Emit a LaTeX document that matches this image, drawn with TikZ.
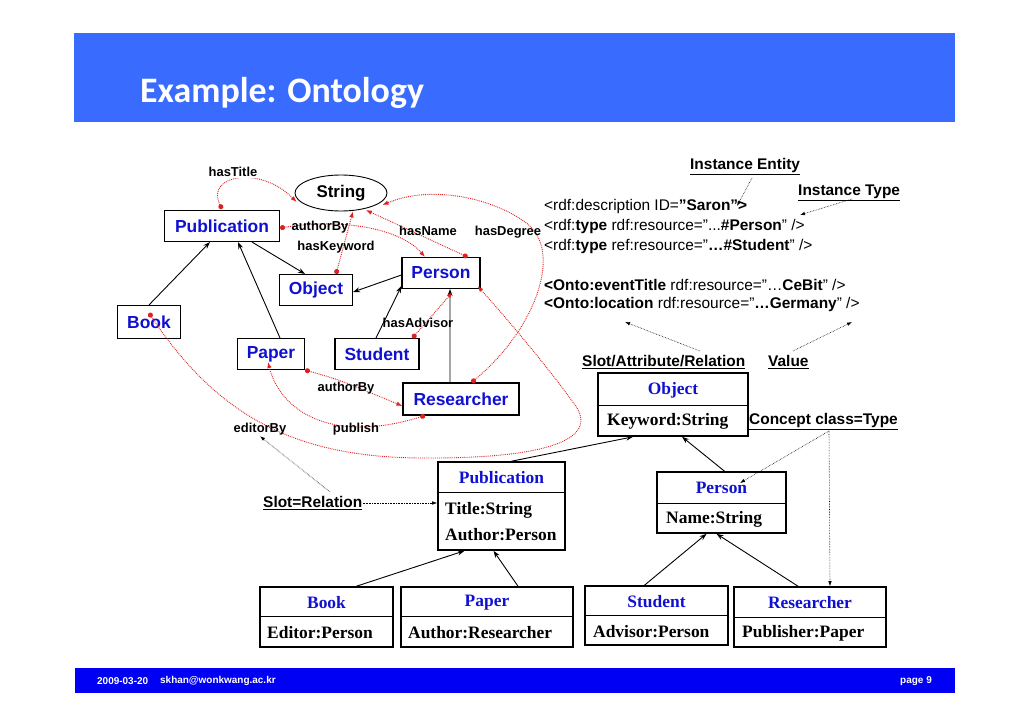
\documentclass[tikz,border=0pt]{standalone}
\usepackage{fontspec}
\setmainfont{Liberation Sans}
\newfontfamily\umlfont{Liberation Serif}
\newfontfamily\ttlfont{Carlito}
\usetikzlibrary{arrows.meta,shapes.geometric}
\definecolor{hdr}{HTML}{3A6BFF}
\definecolor{ftr}{HTML}{0000F5}
\definecolor{cls}{HTML}{1010D0}
\definecolor{rel}{HTML}{E02020}
\begin{document}
\begin{tikzpicture}[x=1bp,y=-1bp,
  cbox/.style={draw,line width=1.1bp,inner sep=0,font=\fontsize{17.5}{19}\selectfont\bfseries,text=cls},
  lab/.style={font=\fontsize{13}{14}\selectfont\bfseries,inner sep=1bp},
  relr/.style={rel,densely dotted,line width=0.9bp,{Circle[length=5bp,fill=rel]}-{Latex[length=6bp,width=4.5bp]}},
  isa/.style={line width=0.9bp,-{Stealth[length=7bp,width=5bp]}},
  ann/.style={line width=0.6bp,densely dotted,-{Latex[length=5bp,width=3.5bp]}},
  note/.style={font=\fontsize{15.5}{17}\selectfont\bfseries,inner sep=0,anchor=west},
  rdf/.style={font=\fontsize{15.5}{17}\selectfont,inner sep=0,anchor=west},
  uml/.style={draw,line width=1.6bp,inner sep=0},
  ut/.style={font=\umlfont\fontsize{17.5}{19}\selectfont\bfseries,text=cls,inner sep=0},
  ua/.style={font=\umlfont\fontsize{17.5}{19}\selectfont\bfseries,inner sep=0,anchor=west}]
\useasboundingbox (0,0) rectangle (1030,728);
% header and footer
\fill[hdr] (74,33) rectangle (955,122);
\node[font=\ttlfont\fontsize{36}{40}\selectfont\bfseries,text=white,anchor=west,inner sep=0] (title) at (140,93) {Example: Ontology};
\fill[ftr] (75,668) rectangle (955,693);
\node[font=\fontsize{10}{11}\selectfont\bfseries,text=white,anchor=west,inner sep=0] (date) at (97,681) {2009-03-20};
\node[font=\fontsize{10}{11}\selectfont\bfseries,text=white,anchor=west,inner sep=0] (mail) at (160,681) {skhan@wonkwang.ac.kr};
\node[font=\fontsize{10}{11}\selectfont\bfseries,text=white,anchor=east,inner sep=0] (page) at (932,681) {page 9};

% ontology graph
\node[draw,ellipse,line width=0.9bp,minimum width=92bp,minimum height=36bp,font=\fontsize{17}{19}\selectfont\bfseries] (str) at (341,193) {String};
\node[cbox,minimum width=115bp,minimum height=31bp] (pub) at (222,226) {Publication};
\node[cbox,minimum width=73bp,minimum height=31bp] (obj) at (316,290) {Object};
\node[cbox,minimum width=78bp,minimum height=31bp] (per) at (441,273) {Person};
\node[cbox,minimum width=63bp,minimum height=33bp] (book) at (149,322) {Book};
\node[cbox,minimum width=67bp,minimum height=31bp] (paper) at (271,354) {Paper};
\node[cbox,minimum width=84bp,minimum height=31bp] (stud) at (377,354) {Student};
\node[cbox,minimum width=116bp,minimum height=32bp] (res) at (461,399) {Researcher};

\draw[isa] (book.north) -- ([xshift=-12bp]pub.south);
\draw[isa] ([xshift=9bp]paper.north) -- ([xshift=16bp]pub.south);
\draw[isa] ([xshift=30bp]pub.south) -- ([xshift=-11bp]obj.north);
\draw[isa] ([yshift=-2bp]per.west) -- ([yshift=-2bp]obj.east);
\draw[isa] ([xshift=-1bp]stud.north) -- ([yshift=3bp]per.south west);
\draw[isa] ([xshift=-11bp]res.north) -- ([xshift=9bp]per.south);

\draw[relr] ([yshift=1bp]pub.north) .. controls (205,175) and (260,165) .. ([xshift=2bp,yshift=-9bp]str.west);
\draw[relr] ([yshift=-2bp]pub.east) .. controls (340,218) and (400,228) .. ([xshift=-16bp]per.north);
\draw[relr] ([xshift=20bp]obj.north) -- ([xshift=12bp]str.south);
\draw[relr] ([xshift=-13bp]per.north east) -- ([xshift=-8bp,yshift=-4bp]str.south east);
\draw[relr] ([xshift=-48bp]res.north east) .. controls (535,330) and (565,250) .. (525,222) .. controls (490,197) and (430,185) .. ([xshift=-5bp,yshift=-12bp]str.east);
\draw[relr] ([xshift=-7bp]stud.north east) -- ([xshift=-28bp,yshift=-3bp]per.south east);
\draw[relr] ([yshift=9bp]book.center) .. controls (220,420) and (300,457) .. (420,458) .. controls (545,459) and (600,440) .. (575,405) .. controls (550,370) and (510,322) .. ([xshift=-3bp,yshift=3bp]per.south east);
\draw[relr] (paper.south east) .. controls (340,380) .. ([yshift=-7bp]res.west);
\draw[relr] ([xshift=-36bp]res.south) .. controls (330,445) and (280,410) .. ([xshift=-3bp,yshift=8bp]paper.south);

\node[lab,fill=white] (lTitle) at (233,172) {hasTitle};
\node[lab] (lAuth) at (320,227) {authorBy};
\node[lab] (lKey) at (336,247) {hasKeyword};
\node[lab] (lName) at (428,231) {hasName};
\node[lab] (lDeg) at (508,232) {hasDegree};
\node[lab] (lAdv) at (418,323) {hasAdvisor};
\node[lab] (lAuth2) at (346,388) {authorBy};
\node[lab] (lPub) at (356,429) {publish};
\node[lab] (lEd) at (260,429) {editorBy};

% RDF text
\node[note] (ie) at (690,167) {\underline{Instance Entity}};
\node[note] (it) at (798,193) {\underline{Instance Type}};
\node[rdf] (r1) at (544,207) {<rdf:description ID=\textbf{"Saron">}};
\node[rdf] (r2) at (544,227) {<rdf:\textbf{type} rdf:resource="...\textbf{\#Person}" />};
\node[rdf] (r3) at (544,247) {<rdf:\textbf{type} ref:resource="\textbf{…\#Student}" />};
\node[rdf] (r4) at (544,285) {\textbf{<Onto:eventTitle} rdf:resource="…\textbf{CeBit}" />};
\node[rdf] (r5) at (544,305) {\textbf{<Onto:location} rdf:resource="\textbf{…Germany}" />};
\node[note] (sar) at (582,362) {\underline{Slot/Attribute/Relation}};
\node[note] (val) at (768,362) {\underline{Value}};
\node[note] (cct) at (749,422) {\underline{Concept class=Type}};
\node[note] (sr) at (263,503) {\underline{Slot=Relation}};
\coordinate (ieT) at (737,206);
\coordinate (itT) at (800,215);
\coordinate (sarT) at (625,322);
\coordinate (valT) at (852,322);
\coordinate (ieS) at (752,178);
\coordinate (itS) at (852,199);
\coordinate (sarS) at (700,351);
\coordinate (valS) at (793,351);
\draw[ann] (ieS) -- (ieT);
\draw[ann] (itS) -- (itT);
\draw[ann] (sarS) -- (sarT);
\draw[ann] (valS) -- (valT);

% UML boxes
\node[uml,minimum width=150bp,minimum height=63bp] (uobj) at (673,404.5) {};
\draw[line width=1bp] (598,405) -- (748,405);
\node[ut] (uobjT) at (673,390) {Object};
\node[ua] (uobjA) at (607,421) {Keyword:String};

\node[uml,minimum width=127bp,minimum height=88bp] (upub) at (501.5,506) {};
\draw[line width=1bp] (438,492) -- (565,492);
\node[ut] (upubT) at (501.5,478) {Publication};
\node[ua] (upubA) at (445,510) {Title:String};
\node[ua] (upubB) at (445,535) {Author:Person};

\node[uml,minimum width=129bp,minimum height=61bp] (uper) at (721.5,502.5) {};
\draw[line width=1bp] (657,503) -- (786,503);
\node[ut] (uperT) at (721.5,488) {Person};
\node[ua] (uperA) at (666,519) {Name:String};

\node[uml,minimum width=133bp,minimum height=60bp] (ubook) at (326.5,617) {};
\draw[line width=1bp] (260,616) -- (393,616);
\node[ut] (ubookT) at (326.5,603) {Book};
\node[ua] (ubookA) at (267,633) {Editor:Person};

\node[uml,minimum width=172bp,minimum height=60bp] (upap) at (487,617) {};
\draw[line width=1bp] (401,616) -- (573,616);
\node[ut] (upapT) at (487,603) {Paper};
\node[ua] (upapA) at (408,633) {Author:Researcher};

\node[uml,minimum width=143bp,minimum height=59bp] (ustu) at (656.5,615.5) {};
\draw[line width=1bp] (585,615) -- (728,615);
\node[ut] (ustuT) at (656.5,602) {Student};
\node[ua] (ustuA) at (593,632) {Advisor:Person};

\node[uml,minimum width=152bp,minimum height=60bp] (ures) at (810,617) {};
\draw[line width=1bp] (734,617) -- (886,617);
\node[ut] (uresT) at (810,603) {Researcher};
\node[ua] (uresA) at (742,633) {Publisher:Paper};

\draw[isa] ([xshift=30bp]ubook.north) -- ([xshift=-37bp]upub.south);
\draw[isa] ([xshift=31bp]upap.north) -- ([xshift=-8bp]upub.south);
\draw[isa] ([xshift=10bp]upub.north) -- ([xshift=-40bp]uobj.south);
\draw[isa] ([xshift=3bp]uper.north) -- ([xshift=9bp]uobj.south);
\draw[isa] ([xshift=-12bp]ustu.north) -- ([xshift=-15bp]uper.south);
\draw[isa] ([xshift=-12bp]ures.north) -- ([xshift=-5bp]uper.south);

\coordinate (cct1) at (829,431);
\coordinate (srS) at (330,492);
\draw[ann] (cct1) -- (740,483);
\draw[ann] (cct1) -- ([xshift=20bp]ures.north);
\draw[ann] (sr.east) -- (upub.west |- sr.east);
\draw[ann] (srS) -- (lEd.south);
\end{tikzpicture}
\end{document}
